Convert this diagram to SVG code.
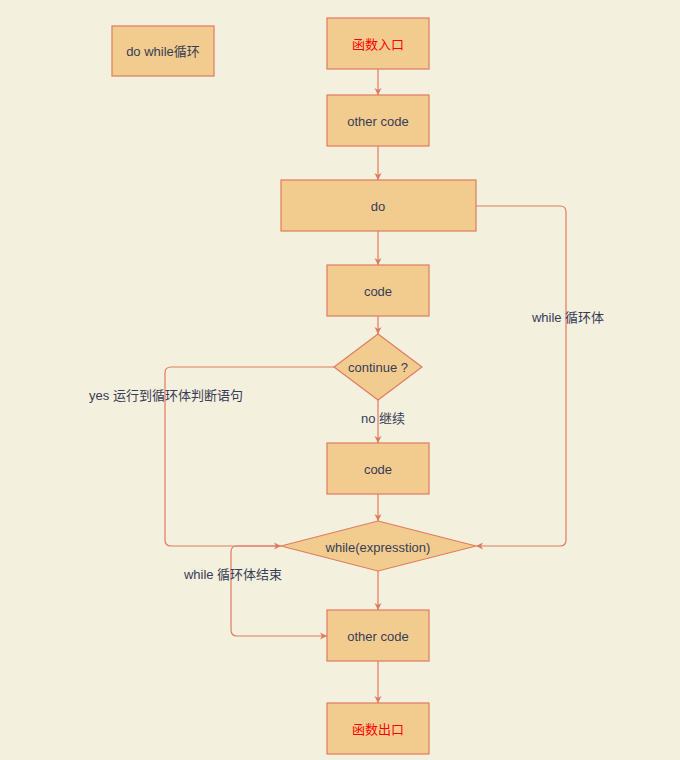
<svg xmlns="http://www.w3.org/2000/svg" width="680" height="760" viewBox="0 0 680 760">
<defs>
<marker id="a" markerWidth="10" markerHeight="10" refX="8" refY="5" orient="auto" markerUnits="userSpaceOnUse"><path d="M1,1.5 L8,5 L1,8.5 L3,5 Z" fill="#E07A5F"/></marker>
<style>
.n{fill:#F2CC8F;stroke:#E07A5F;stroke-width:1.2}
.t{font-family:"Liberation Sans","Noto Sans CJK SC",sans-serif;font-size:13px;fill:#393C56;text-anchor:middle;dominant-baseline:central}
.r{fill:#FF0000}
.c{fill:none;stroke:#E07A5F;stroke-width:1.2;marker-end:url(#a)}
.l{font-family:"Liberation Sans","Noto Sans CJK SC",sans-serif;font-size:13px;fill:#393C56;text-anchor:middle;dominant-baseline:central}
</style>
</defs>
<rect width="680" height="760" fill="#F4F0DE"/>
<g id="connectors">
<path class="c" d="M378,69 V95"/>
<path class="c" d="M378,146 V180"/>
<path class="c" d="M378,231 V265"/>
<path class="c" d="M378,316 V334"/>
<path class="c" d="M378,400 V443"/>
<path class="c" d="M378,494 V521"/>
<path class="c" d="M378,571 V610"/>
<path class="c" d="M378,661 V703"/>
<path class="c" d="M476,206 H560 Q566,206 566,212 V540 Q566,546 560,546 H476"/>
<path class="c" d="M334,367 H171 Q165,367 165,373 V540 Q165,546 171,546 H281"/>
<path class="c" d="M281,546 H237 Q231,546 231,552 V630 Q231,636 237,636 H327"/>
<text class="l" x="568" y="317">while 循环体</text>
<text class="l" x="166" y="395">yes 运行到循环体判断语句</text>
<text class="l" x="383" y="418">no 继续</text>
<text class="l" x="233" y="574">while 循环体结束</text>
</g>
<g id="title"><rect class="n" x="112" y="26" width="102" height="50"/><text class="t" x="163" y="51">do while循环</text></g>
<g id="entry"><rect class="n" x="327" y="18" width="102" height="51"/><text class="t r" x="378" y="44">函数入口</text></g>
<g id="other1"><rect class="n" x="327" y="95" width="102" height="51"/><text class="t" x="378" y="121">other code</text></g>
<g id="do"><rect class="n" x="281" y="180" width="195" height="51"/><text class="t" x="378" y="206">do</text></g>
<g id="code1"><rect class="n" x="327" y="265" width="102" height="51"/><text class="t" x="378" y="291">code</text></g>
<g id="continue"><path class="n" d="M378,334 L422,367 L378,400 L334,367 Z"/><text class="t" x="378" y="367">continue ?</text></g>
<g id="code2"><rect class="n" x="327" y="443" width="102" height="51"/><text class="t" x="378" y="469">code</text></g>
<g id="while"><path class="n" d="M378,521 L476,546 L378,571 L281,546 Z"/><text class="t" x="378" y="547">while(expresstion)</text></g>
<g id="other2"><rect class="n" x="327" y="610" width="102" height="51"/><text class="t" x="378" y="636">other code</text></g>
<g id="exit"><rect class="n" x="327" y="703" width="102" height="51"/><text class="t r" x="378" y="729">函数出口</text></g>
</svg>
